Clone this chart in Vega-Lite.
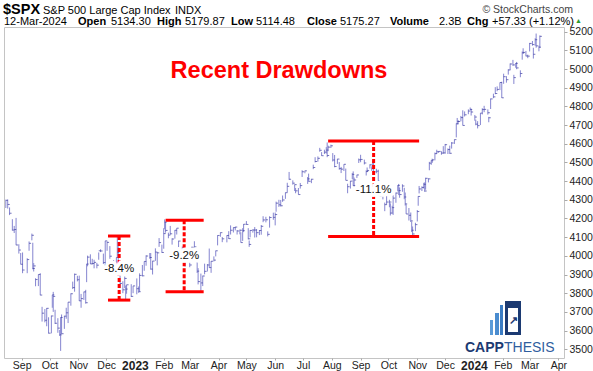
{
"$schema": "https://vega.github.io/schema/vega-lite/v6.json",
"width": 560, "height": 331,
"autosize": "none",
"padding": {"left": 4, "top": 27, "right": 29, "bottom": 13},
"background": "white",
"config": {"view": {"stroke": "#c4c4c4", "strokeWidth": 1}, "font": "Liberation Sans",
 "axisY": {"title": null, "domain": false, "grid": false, "labelOverlap": false, "tickSize": 3, "tickColor": "#aaaaaa", "labelPadding": 2, "labelFontSize": 10.5, "labelColor": "#222222", "labelFont": "Liberation Sans", "format": "d"}},
"title": {"text": "Recent Drawdowns", "orient": "top", "anchor": "middle", "offset": -80, "fontSize": 23.5, "font": "Liberation Sans", "fontWeight": "bold", "color": "#ff0000", "dx": -5},
"datasets": {
"px": [
{"d":"2022-08-15","h":4301,"l":4256,"c":4297},{"d":"2022-08-17","h":4302,"l":4253,"c":4275},{"d":"2022-08-19","h":4259,"l":4218,"c":4228},
{"d":"2022-08-22","h":4196,"l":4135,"c":4138},{"d":"2022-08-24","h":4160,"l":4122,"c":4141},{"d":"2022-08-26","h":4203,"l":4057,"c":4058},
{"d":"2022-08-29","h":4062,"l":4012,"c":4031},{"d":"2022-08-31","h":4015,"l":3954,"c":3955},{"d":"2022-09-02","h":4018,"l":3907,"c":3924},
{"d":"2022-09-07","h":3987,"l":3907,"c":3980},{"d":"2022-09-09","h":4077,"l":4027,"c":4067},{"d":"2022-09-12","h":4119,"l":4083,"c":4110},
{"d":"2022-09-13","h":4070,"l":3928,"c":3932},{"d":"2022-09-14","h":3961,"l":3916,"c":3946},{"d":"2022-09-16","h":3880,"l":3837,"c":3873},
{"d":"2022-09-19","h":3900,"l":3838,"c":3900},{"d":"2022-09-21","h":3907,"l":3789,"c":3790},{"d":"2022-09-23","h":3727,"l":3648,"c":3693},
{"d":"2022-09-26","h":3715,"l":3644,"c":3655},{"d":"2022-09-28","h":3721,"l":3623,"c":3719},{"d":"2022-09-30","h":3671,"l":3584,"c":3586},
{"d":"2022-10-03","h":3680,"l":3585,"c":3678},{"d":"2022-10-04","h":3791,"l":3722,"c":3791},{"d":"2022-10-05","h":3807,"l":3700,"c":3783},
{"d":"2022-10-07","h":3711,"l":3635,"c":3639},{"d":"2022-10-10","h":3666,"l":3588,"c":3613},{"d":"2022-10-12","h":3603,"l":3571,"c":3577},
{"d":"2022-10-13","h":3671,"l":3491,"c":3670},{"d":"2022-10-14","h":3686,"l":3582,"c":3583},{"d":"2022-10-17","h":3679,"l":3609,"c":3677},
{"d":"2022-10-19","h":3722,"l":3663,"c":3695},{"d":"2022-10-21","h":3752,"l":3640,"c":3752},{"d":"2022-10-24","h":3799,"l":3733,"c":3797},
{"d":"2022-10-26","h":3862,"l":3822,"c":3830},{"d":"2022-10-28","h":3905,"l":3808,"c":3901},{"d":"2022-10-31","h":3893,"l":3863,"c":3872},
{"d":"2022-11-02","h":3894,"l":3758,"c":3759},{"d":"2022-11-04","h":3796,"l":3722,"c":3771},{"d":"2022-11-07","h":3808,"l":3764,"c":3807},
{"d":"2022-11-09","h":3818,"l":3744,"c":3749},{"d":"2022-11-10","h":3957,"l":3859,"c":3956},{"d":"2022-11-11","h":4001,"l":3944,"c":3993},
{"d":"2022-11-14","h":4008,"l":3956,"c":3957},{"d":"2022-11-16","h":3984,"l":3954,"c":3959},{"d":"2022-11-18","h":3979,"l":3933,"c":3965},
{"d":"2022-11-21","h":3962,"l":3933,"c":3950},{"d":"2022-11-23","h":4018,"l":3979,"c":4027},{"d":"2022-11-25","h":4035,"l":4020,"c":4026},
{"d":"2022-11-28","h":4012,"l":3956,"c":3964},{"d":"2022-11-30","h":4080,"l":3938,"c":4080},{"d":"2022-12-02","h":4077,"l":4027,"c":4072},
{"d":"2022-12-05","h":4052,"l":3984,"c":3998},{"d":"2022-12-07","h":3958,"l":3923,"c":3933},{"d":"2022-12-09","h":3977,"l":3933,"c":3934},
{"d":"2022-12-12","h":3991,"l":3935,"c":3991},{"d":"2022-12-13","h":4101,"l":3994,"c":4019},{"d":"2022-12-14","h":4052,"l":3965,"c":3995},
{"d":"2022-12-16","h":3893,"l":3827,"c":3852},{"d":"2022-12-19","h":3864,"l":3800,"c":3818},{"d":"2022-12-21","h":3889,"l":3827,"c":3879},
{"d":"2022-12-22","h":3841,"l":3765,"c":3822},{"d":"2022-12-23","h":3845,"l":3797,"c":3845},{"d":"2022-12-28","h":3848,"l":3780,"c":3783},
{"d":"2022-12-30","h":3839,"l":3800,"c":3839},{"d":"2023-01-03","h":3879,"l":3794,"c":3824},{"d":"2023-01-05","h":3836,"l":3802,"c":3808},
{"d":"2023-01-06","h":3906,"l":3809,"c":3895},{"d":"2023-01-09","h":3951,"l":3890,"c":3893},{"d":"2023-01-11","h":3970,"l":3920,"c":3970},
{"d":"2023-01-13","h":4003,"l":3947,"c":3999},{"d":"2023-01-17","h":4015,"l":3984,"c":3991},{"d":"2023-01-18","h":4015,"l":3926,"c":3929},
{"d":"2023-01-20","h":3973,"l":3900,"c":3972},{"d":"2023-01-23","h":4040,"l":3973,"c":4020},{"d":"2023-01-25","h":4020,"l":3949,"c":4016},
{"d":"2023-01-27","h":4095,"l":4048,"c":4071},{"d":"2023-01-30","h":4060,"l":4016,"c":4018},{"d":"2023-02-01","h":4148,"l":4038,"c":4119},
{"d":"2023-02-02","h":4195,"l":4142,"c":4180},{"d":"2023-02-03","h":4183,"l":4124,"c":4136},{"d":"2023-02-06","h":4124,"l":4094,"c":4111},
{"d":"2023-02-08","h":4160,"l":4113,"c":4118},{"d":"2023-02-10","h":4094,"l":4060,"c":4090},{"d":"2023-02-13","h":4138,"l":4092,"c":4137},
{"d":"2023-02-15","h":4148,"l":4114,"c":4148},{"d":"2023-02-17","h":4081,"l":4047,"c":4079},{"d":"2023-02-21","h":4050,"l":3995,"c":3997},
{"d":"2023-02-23","h":4029,"l":3971,"c":4012},{"d":"2023-02-24","h":3983,"l":3943,"c":3970},{"d":"2023-02-27","h":4018,"l":3973,"c":3982},
{"d":"2023-03-01","h":3972,"l":3939,"c":3951},{"d":"2023-03-03","h":4048,"l":3975,"c":4046},{"d":"2023-03-06","h":4078,"l":4044,"c":4048},
{"d":"2023-03-08","h":3995,"l":3969,"c":3992},{"d":"2023-03-09","h":4017,"l":3908,"c":3918},{"d":"2023-03-10","h":3934,"l":3847,"c":3862},
{"d":"2023-03-13","h":3905,"l":3808,"c":3855},{"d":"2023-03-15","h":3894,"l":3838,"c":3892},{"d":"2023-03-17","h":3958,"l":3901,"c":3917},
{"d":"2023-03-20","h":3956,"l":3916,"c":3951},{"d":"2023-03-22","h":4039,"l":3936,"c":3937},{"d":"2023-03-24","h":3972,"l":3909,"c":3971},
{"d":"2023-03-27","h":3997,"l":3970,"c":3977},{"d":"2023-03-29","h":4028,"l":3997,"c":4027},{"d":"2023-03-31","h":4110,"l":4056,"c":4109},
{"d":"2023-04-03","h":4125,"l":4102,"c":4124},{"d":"2023-04-05","h":4101,"l":4073,"c":4091},{"d":"2023-04-10","h":4110,"l":4072,"c":4109},
{"d":"2023-04-12","h":4132,"l":4090,"c":4092},{"d":"2023-04-14","h":4163,"l":4114,"c":4137},{"d":"2023-04-17","h":4152,"l":4125,"c":4151},
{"d":"2023-04-19","h":4155,"l":4136,"c":4154},{"d":"2023-04-21","h":4138,"l":4114,"c":4133},{"d":"2023-04-24","h":4141,"l":4115,"c":4137},
{"d":"2023-04-25","h":4126,"l":4071,"c":4071},{"d":"2023-04-27","h":4148,"l":4080,"c":4135},{"d":"2023-04-28","h":4170,"l":4127,"c":4169},
{"d":"2023-05-01","h":4186,"l":4166,"c":4168},{"d":"2023-05-03","h":4148,"l":4088,"c":4091},{"d":"2023-05-04","h":4082,"l":4048,"c":4061},
{"d":"2023-05-05","h":4138,"l":4099,"c":4136},{"d":"2023-05-08","h":4143,"l":4124,"c":4138},{"d":"2023-05-10","h":4154,"l":4098,"c":4138},
{"d":"2023-05-12","h":4143,"l":4099,"c":4124},{"d":"2023-05-15","h":4138,"l":4111,"c":4136},{"d":"2023-05-17","h":4165,"l":4113,"c":4158},
{"d":"2023-05-19","h":4212,"l":4180,"c":4192},{"d":"2023-05-22","h":4209,"l":4179,"c":4193},{"d":"2023-05-24","h":4131,"l":4104,"c":4115},
{"d":"2023-05-26","h":4212,"l":4151,"c":4205},{"d":"2023-05-30","h":4231,"l":4193,"c":4206},{"d":"2023-06-01","h":4232,"l":4163,"c":4221},
{"d":"2023-06-02","h":4290,"l":4236,"c":4282},{"d":"2023-06-05","h":4300,"l":4262,"c":4273},{"d":"2023-06-07","h":4299,"l":4264,"c":4268},
{"d":"2023-06-09","h":4323,"l":4289,"c":4299},{"d":"2023-06-12","h":4339,"l":4305,"c":4338},{"d":"2023-06-14","h":4391,"l":4339,"c":4372},
{"d":"2023-06-16","h":4449,"l":4407,"c":4410},{"d":"2023-06-20","h":4404,"l":4381,"c":4389},{"d":"2023-06-22","h":4382,"l":4347,"c":4381},
{"d":"2023-06-23","h":4363,"l":4335,"c":4348},{"d":"2023-06-26","h":4363,"l":4328,"c":4328},{"d":"2023-06-28","h":4390,"l":4360,"c":4376},
{"d":"2023-06-30","h":4458,"l":4422,"c":4450},{"d":"2023-07-03","h":4456,"l":4442,"c":4455},{"d":"2023-07-06","h":4422,"l":4385,"c":4412},
{"d":"2023-07-07","h":4440,"l":4397,"c":4399},{"d":"2023-07-10","h":4412,"l":4389,"c":4410},{"d":"2023-07-12","h":4488,"l":4464,"c":4473},
{"d":"2023-07-14","h":4528,"l":4500,"c":4505},{"d":"2023-07-17","h":4532,"l":4504,"c":4522},{"d":"2023-07-19","h":4578,"l":4557,"c":4565},
{"d":"2023-07-21","h":4555,"l":4535,"c":4536},{"d":"2023-07-24","h":4568,"l":4545,"c":4555},{"d":"2023-07-26","h":4582,"l":4547,"c":4566},
{"d":"2023-07-27","h":4607,"l":4528,"c":4537},{"d":"2023-07-28","h":4590,"l":4560,"c":4582},{"d":"2023-07-31","h":4595,"l":4577,"c":4589},
{"d":"2023-08-02","h":4550,"l":4505,"c":4513},{"d":"2023-08-04","h":4540,"l":4474,"c":4478},{"d":"2023-08-07","h":4519,"l":4492,"c":4518},
{"d":"2023-08-09","h":4502,"l":4461,"c":4467},{"d":"2023-08-11","h":4476,"l":4443,"c":4464},{"d":"2023-08-14","h":4490,"l":4454,"c":4490},
{"d":"2023-08-16","h":4467,"l":4404,"c":4404},{"d":"2023-08-18","h":4386,"l":4335,"c":4370},{"d":"2023-08-21","h":4401,"l":4360,"c":4400},
{"d":"2023-08-23","h":4443,"l":4411,"c":4436},{"d":"2023-08-24","h":4452,"l":4375,"c":4376},{"d":"2023-08-25","h":4419,"l":4356,"c":4406},
{"d":"2023-08-28","h":4434,"l":4417,"c":4433},{"d":"2023-08-30","h":4521,"l":4497,"c":4514},{"d":"2023-09-01","h":4541,"l":4501,"c":4516},
{"d":"2023-09-05","h":4515,"l":4489,"c":4497},{"d":"2023-09-07","h":4458,"l":4430,"c":4451},{"d":"2023-09-08","h":4473,"l":4449,"c":4457},
{"d":"2023-09-11","h":4490,"l":4467,"c":4487},{"d":"2023-09-13","h":4479,"l":4455,"c":4467},{"d":"2023-09-14","h":4511,"l":4478,"c":4505},
{"d":"2023-09-15","h":4497,"l":4447,"c":4450},{"d":"2023-09-18","h":4466,"l":4442,"c":4453},{"d":"2023-09-20","h":4461,"l":4401,"c":4402},
{"d":"2023-09-21","h":4375,"l":4329,"c":4330},{"d":"2023-09-22","h":4345,"l":4317,"c":4320},{"d":"2023-09-25","h":4338,"l":4302,"c":4337},
{"d":"2023-09-27","h":4285,"l":4239,"c":4274},{"d":"2023-09-29","h":4334,"l":4274,"c":4288},{"d":"2023-10-02","h":4300,"l":4260,"c":4288},
{"d":"2023-10-03","h":4281,"l":4216,"c":4229},{"d":"2023-10-05","h":4268,"l":4225,"c":4258},{"d":"2023-10-06","h":4324,"l":4219,"c":4309},
{"d":"2023-10-09","h":4339,"l":4284,"c":4336},{"d":"2023-10-11","h":4378,"l":4345,"c":4377},{"d":"2023-10-12","h":4385,"l":4325,"c":4349},
{"d":"2023-10-13","h":4366,"l":4311,"c":4328},{"d":"2023-10-16","h":4383,"l":4343,"c":4374},{"d":"2023-10-18","h":4364,"l":4303,"c":4315},
{"d":"2023-10-19","h":4339,"l":4269,"c":4278},{"d":"2023-10-20","h":4276,"l":4224,"c":4224},{"d":"2023-10-23","h":4256,"l":4189,"c":4217},
{"d":"2023-10-25","h":4232,"l":4181,"c":4187},{"d":"2023-10-26","h":4183,"l":4127,"c":4137},{"d":"2023-10-27","h":4157,"l":4103,"c":4117},
{"d":"2023-10-30","h":4177,"l":4132,"c":4167},{"d":"2023-11-01","h":4245,"l":4184,"c":4237},{"d":"2023-11-02","h":4319,"l":4268,"c":4318},
{"d":"2023-11-03","h":4374,"l":4334,"c":4358},{"d":"2023-11-06","h":4372,"l":4347,"c":4366},{"d":"2023-11-08","h":4391,"l":4360,"c":4383},
{"d":"2023-11-09","h":4393,"l":4343,"c":4347},{"d":"2023-11-10","h":4418,"l":4354,"c":4415},{"d":"2023-11-13","h":4415,"l":4393,"c":4412},
{"d":"2023-11-14","h":4503,"l":4458,"c":4496},{"d":"2023-11-16","h":4511,"l":4487,"c":4509},{"d":"2023-11-17","h":4520,"l":4497,"c":4514},
{"d":"2023-11-20","h":4553,"l":4511,"c":4547},{"d":"2023-11-22","h":4568,"l":4545,"c":4557},{"d":"2023-11-24","h":4560,"l":4552,"c":4559},
{"d":"2023-11-27","h":4560,"l":4541,"c":4550},{"d":"2023-11-29","h":4587,"l":4547,"c":4551},{"d":"2023-12-01","h":4599,"l":4547,"c":4595},
{"d":"2023-12-04","h":4575,"l":4545,"c":4569},{"d":"2023-12-06","h":4590,"l":4546,"c":4549},{"d":"2023-12-08","h":4609,"l":4574,"c":4604},
{"d":"2023-12-11","h":4623,"l":4599,"c":4622},{"d":"2023-12-13","h":4709,"l":4634,"c":4707},{"d":"2023-12-14","h":4738,"l":4704,"c":4720},
{"d":"2023-12-15","h":4725,"l":4704,"c":4719},{"d":"2023-12-18","h":4749,"l":4720,"c":4740},{"d":"2023-12-20","h":4779,"l":4698,"c":4698},
{"d":"2023-12-22","h":4773,"l":4746,"c":4755},{"d":"2023-12-26","h":4784,"l":4758,"c":4775},{"d":"2023-12-28","h":4794,"l":4780,"c":4783},
{"d":"2023-12-29","h":4788,"l":4751,"c":4770},{"d":"2024-01-02","h":4754,"l":4723,"c":4743},{"d":"2024-01-03","h":4729,"l":4699,"c":4705},
{"d":"2024-01-05","h":4721,"l":4682,"c":4697},{"d":"2024-01-08","h":4764,"l":4700,"c":4764},{"d":"2024-01-10","h":4790,"l":4757,"c":4783},
{"d":"2024-01-12","h":4803,"l":4769,"c":4784},{"d":"2024-01-16","h":4784,"l":4756,"c":4766},{"d":"2024-01-17","h":4744,"l":4715,"c":4739},
{"d":"2024-01-19","h":4842,"l":4786,"c":4840},{"d":"2024-01-22","h":4868,"l":4844,"c":4851},{"d":"2024-01-24","h":4903,"l":4865,"c":4869},
{"d":"2024-01-26","h":4907,"l":4881,"c":4891},{"d":"2024-01-29","h":4928,"l":4887,"c":4928},{"d":"2024-01-31","h":4932,"l":4845,"c":4846},
{"d":"2024-02-02","h":4975,"l":4921,"c":4959},{"d":"2024-02-05","h":4962,"l":4927,"c":4943},{"d":"2024-02-07","h":4999,"l":4970,"c":4995},
{"d":"2024-02-09","h":5030,"l":4994,"c":5027},{"d":"2024-02-12","h":5049,"l":5017,"c":5022},{"d":"2024-02-13","h":4969,"l":4920,"c":4954},
{"d":"2024-02-15","h":5032,"l":5007,"c":5030},{"d":"2024-02-16","h":5038,"l":4999,"c":5006},{"d":"2024-02-20","h":4993,"l":4956,"c":4976},
{"d":"2024-02-22","h":5094,"l":5050,"c":5087},{"d":"2024-02-23","h":5111,"l":5081,"c":5089},{"d":"2024-02-26","h":5097,"l":5068,"c":5070},
{"d":"2024-02-28","h":5077,"l":5058,"c":5069},{"d":"2024-03-01","h":5140,"l":5094,"c":5137},{"d":"2024-03-04","h":5150,"l":5125,"c":5131},
{"d":"2024-03-05","h":5114,"l":5056,"c":5079},{"d":"2024-03-07","h":5165,"l":5124,"c":5157},{"d":"2024-03-08","h":5190,"l":5114,"c":5124},
{"d":"2024-03-11","h":5125,"l":5095,"c":5117},{"d":"2024-03-12","h":5180,"l":5114,"c":5175}
],
"dd": [
{"s":"2022-12-03","e":"2022-12-27","m":"2022-12-15","hi":4106,"lo":3763,"lp":3932,"t":"-8.4%"},
{"s":"2023-02-03","e":"2023-03-16","m":"2023-02-23","hi":4190,"lo":3807,"lp":3998,"t":"-9.2%"},
{"s":"2023-07-28","e":"2023-11-03","m":"2023-09-15","hi":4615,"lo":4103,"lp":4355,"t":"-11.1%"}
]
},
"layer": [
{"data": {"name": "px"}, "mark": {"type": "rule", "color": "#8585d0", "strokeWidth": 1},
 "encoding": {
  "x": {"field": "d", "type": "temporal",
   "scale": {"domain": [{"year": 2022, "month": 8, "date": 13}, {"year": 2024, "month": 4, "date": 7}]},
   "axis": {"title": null, "orient": "bottom", "domain": false, "grid": false, "tickCount": {"interval": "month", "step": 1},
    "tickSize": 2, "tickColor": "#aaaaaa", "labelPadding": 0, "labelOverlap": false, "labelFlush": false,
    "labelExpr": "month(datum.value) == 0 ? timeFormat(datum.value, '%Y') : timeFormat(datum.value, '%b')",
    "labelFontSize": {"condition": {"test": "month(datum.value) == 0", "value": 12}, "value": 10.5},
    "labelFontWeight": {"condition": {"test": "month(datum.value) == 0", "value": "bold"}, "value": "normal"},
    "labelColor": "#222222", "labelFont": "Liberation Sans"}},
  "y": {"field": "l", "type": "quantitative",
   "scale": {"domain": [3453, 5225], "nice": false, "zero": false},
   "axis": {"orient": "right", "labelOverlap": false, "values": [3500,3600,3700,3800,3900,4000,4100,4200,4300,4400,4500,4600,4700,4800,4900,5000,5100,5200]}},
  "y2": {"field": "h"}}},
{"data": {"name": "px"}, "mark": {"type": "tick", "orient": "horizontal", "color": "#3a3aa0", "size": 2, "thickness": 1, "xOffset": 1},
 "encoding": {"x": {"field": "d", "type": "temporal"}, "y": {"field": "c", "type": "quantitative", "axis": {"orient": "right", "labelOverlap": false, "values": [3500,3600,3700,3800,3900,4000,4100,4200,4300,4400,4500,4600,4700,4800,4900,5000,5100,5200]}}}},
{"data": {"name": "dd"}, "mark": {"type": "rule", "color": "#ff0000", "strokeWidth": 3},
 "encoding": {"x": {"field": "s", "type": "temporal"}, "x2": {"field": "e"}, "y": {"field": "hi", "type": "quantitative", "axis": {"orient": "right", "labelOverlap": false, "values": [3500,3600,3700,3800,3900,4000,4100,4200,4300,4400,4500,4600,4700,4800,4900,5000,5100,5200]}}}},
{"data": {"name": "dd"}, "mark": {"type": "rule", "color": "#ff0000", "strokeWidth": 3},
 "encoding": {"x": {"field": "s", "type": "temporal"}, "x2": {"field": "e"}, "y": {"field": "lo", "type": "quantitative", "axis": {"orient": "right", "labelOverlap": false, "values": [3500,3600,3700,3800,3900,4000,4100,4200,4300,4400,4500,4600,4700,4800,4900,5000,5100,5200]}}}},
{"data": {"name": "dd"}, "mark": {"type": "rule", "color": "#ff0000", "strokeWidth": 3, "strokeDash": [4, 2]},
 "encoding": {"x": {"field": "m", "type": "temporal"}, "y": {"field": "hi", "type": "quantitative", "axis": {"orient": "right", "labelOverlap": false, "values": [3500,3600,3700,3800,3900,4000,4100,4200,4300,4400,4500,4600,4700,4800,4900,5000,5100,5200]}}, "y2": {"field": "lo"}}},
{"data": {"name": "dd"}, "mark": {"type": "text", "fontSize": 11.5, "font": "Liberation Sans", "stroke": "white", "strokeWidth": 7, "color": "white", "baseline": "middle"},
 "encoding": {"x": {"field": "m", "type": "temporal"}, "y": {"field": "lp", "type": "quantitative", "axis": {"orient": "right", "labelOverlap": false, "values": [3500,3600,3700,3800,3900,4000,4100,4200,4300,4400,4500,4600,4700,4800,4900,5000,5100,5200]}}, "text": {"field": "t"}}},
{"data": {"name": "dd"}, "mark": {"type": "text", "fontSize": 11.5, "font": "Liberation Sans", "color": "#111111", "baseline": "middle"},
 "encoding": {"x": {"field": "m", "type": "temporal"}, "y": {"field": "lp", "type": "quantitative", "axis": {"orient": "right", "labelOverlap": false, "values": [3500,3600,3700,3800,3900,4000,4100,4200,4300,4400,4500,4600,4700,4800,4900,5000,5100,5200]}}, "text": {"field": "t"}}},
{"data": {"values": [{}]}, "mark": {"type": "text", "text": "$SPX", "x": -1, "y": -13, "align": "left", "baseline": "alphabetic", "fontSize": 14.5, "fontWeight": "bold", "color": "#000000"}},
{"data": {"values": [{}]}, "mark": {"type": "text", "text": "S&P 500 Large Cap Index", "x": 39, "y": -13, "align": "left", "baseline": "alphabetic", "fontSize": 11, "color": "#000000"}},
{"data": {"values": [{}]}, "mark": {"type": "text", "text": "INDX", "x": 171, "y": -13, "align": "left", "baseline": "alphabetic", "fontSize": 11, "color": "#000000"}},
{"data": {"values": [{}]}, "mark": {"type": "text", "text": "© StockCharts.com", "x": 569, "y": -14, "align": "right", "baseline": "alphabetic", "fontSize": 10.5, "color": "#444444"}},
{"data": {"values": [{}]}, "mark": {"type": "text", "text": "12-Mar-2024", "x": 0, "y": -2, "align": "left", "baseline": "alphabetic", "fontSize": 11, "color": "#000000"}},
{"data": {"values": [{}]}, "mark": {"type": "text", "text": "Open", "x": 74, "y": -2, "align": "left", "baseline": "alphabetic", "fontSize": 11, "fontWeight": "bold", "color": "#000000"}},
{"data": {"values": [{}]}, "mark": {"type": "text", "text": "5134.30", "x": 107, "y": -2, "align": "left", "baseline": "alphabetic", "fontSize": 11, "color": "#000000"}},
{"data": {"values": [{}]}, "mark": {"type": "text", "text": "High", "x": 153, "y": -2, "align": "left", "baseline": "alphabetic", "fontSize": 11, "fontWeight": "bold", "color": "#000000"}},
{"data": {"values": [{}]}, "mark": {"type": "text", "text": "5179.87", "x": 181, "y": -2, "align": "left", "baseline": "alphabetic", "fontSize": 11, "color": "#000000"}},
{"data": {"values": [{}]}, "mark": {"type": "text", "text": "Low", "x": 227, "y": -2, "align": "left", "baseline": "alphabetic", "fontSize": 11, "fontWeight": "bold", "color": "#000000"}},
{"data": {"values": [{}]}, "mark": {"type": "text", "text": "5114.48", "x": 252, "y": -2, "align": "left", "baseline": "alphabetic", "fontSize": 11, "color": "#000000"}},
{"data": {"values": [{}]}, "mark": {"type": "text", "text": "Close", "x": 303, "y": -2, "align": "left", "baseline": "alphabetic", "fontSize": 11, "fontWeight": "bold", "color": "#000000"}},
{"data": {"values": [{}]}, "mark": {"type": "text", "text": "5175.27", "x": 336, "y": -2, "align": "left", "baseline": "alphabetic", "fontSize": 11, "color": "#000000"}},
{"data": {"values": [{}]}, "mark": {"type": "text", "text": "Volume", "x": 386, "y": -2, "align": "left", "baseline": "alphabetic", "fontSize": 11, "fontWeight": "bold", "color": "#000000"}},
{"data": {"values": [{}]}, "mark": {"type": "text", "text": "2.3B", "x": 435, "y": -2, "align": "left", "baseline": "alphabetic", "fontSize": 11, "color": "#000000"}},
{"data": {"values": [{}]}, "mark": {"type": "text", "text": "Chg", "x": 463, "y": -2, "align": "left", "baseline": "alphabetic", "fontSize": 11, "fontWeight": "bold", "color": "#000000"}},
{"data": {"values": [{}]}, "mark": {"type": "text", "text": "+57.33 (+1.12%)", "x": 488, "y": -2, "align": "left", "baseline": "alphabetic", "fontSize": 11, "color": "#000000"}},
{"data": {"values": [{}]}, "mark": {"type": "text", "text": "▲", "x": 571, "y": -4, "align": "left", "baseline": "alphabetic", "fontSize": 7, "color": "#2e9a2e"}},
{"data": {"values": [{}]}, "mark": {"type": "rect", "x": 486, "x2": 489, "y": 293, "y2": 308, "color": "#5a9bd8"}},
{"data": {"values": [{}]}, "mark": {"type": "rect", "x": 491, "x2": 495, "y": 286, "y2": 308, "color": "#4a8ccf"}},
{"data": {"values": [{}]}, "mark": {"type": "rect", "x": 496, "x2": 499, "y": 278, "y2": 308, "color": "#3b7cc4"}},
{"data": {"values": [{}]}, "mark": {"type": "rect", "x": 501, "x2": 517, "y": 274, "y2": 308, "color": "#1c3a72"}},
{"data": {"values": [{}]}, "mark": {"type": "rect", "x": 504, "x2": 514, "y": 281, "y2": 305, "color": "#ffffff"}},
{"data": {"values": [{}]}, "mark": {"type": "text", "text": "↗", "x": 509, "y": 294, "align": "center", "baseline": "middle", "fontSize": 11, "fontWeight": "bold", "color": "#1c3a72"}},
{"data": {"values": [{}]}, "mark": {"type": "text", "text": "CAPP", "x": 461, "y": 325, "align": "left", "baseline": "alphabetic", "fontSize": 14, "fontWeight": "bold", "color": "#1c3a72"}},
{"data": {"values": [{}]}, "mark": {"type": "text", "text": "THESIS", "x": 500, "y": 325, "align": "left", "baseline": "alphabetic", "fontSize": 14, "color": "#2f5d9e"}}
]
}
